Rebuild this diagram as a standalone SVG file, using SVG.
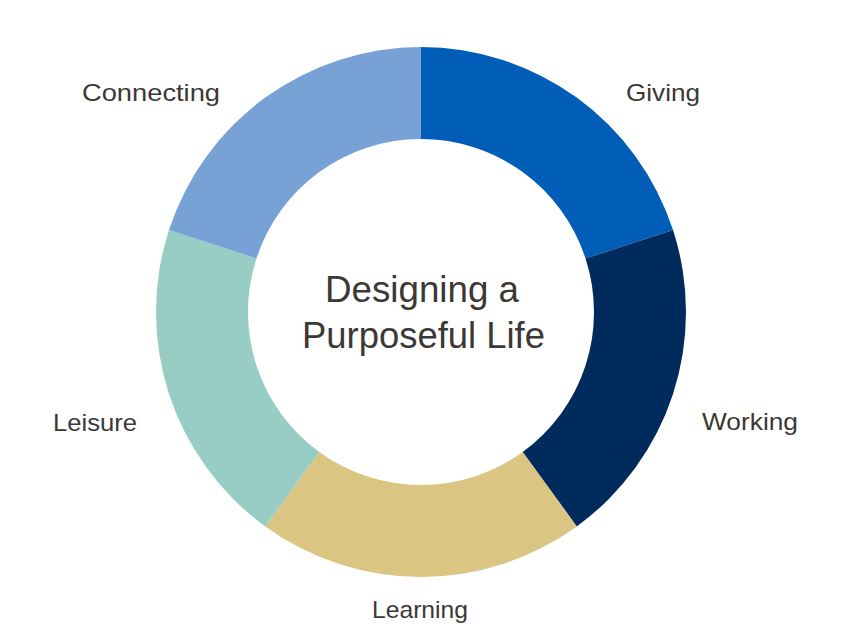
<svg xmlns="http://www.w3.org/2000/svg" width="852" height="638" viewBox="0 0 852 638">
<style>
.lbl{font-family:"Liberation Sans",Arial,sans-serif;font-size:24px;fill:#3b3835}
.ctr{font-family:"Liberation Sans",Arial,sans-serif;font-size:37px;fill:#3b3835}
.seg{stroke:none}
</style>
<rect width="852" height="638" fill="#ffffff"/>
<g id="segments">
<g id="giving"><path class="seg" fill="#005EB8" d="M421,47 A265,265 0 0 1 673.03,230.11 L585.53,258.54 A173,173 0 0 0 421,139 Z"/><text class="lbl" x="626" y="101" textLength="74" lengthAdjust="spacingAndGlyphs">Giving</text></g>
<g id="working"><path class="seg" fill="#002B5C" d="M673.03,230.11 A265,265 0 0 1 576.76,526.39 L522.69,451.96 A173,173 0 0 0 585.53,258.54 Z"/><text class="lbl" x="702" y="430" textLength="96" lengthAdjust="spacingAndGlyphs">Working</text></g>
<g id="learning"><path class="seg" fill="#DBC582" d="M576.76,526.39 A265,265 0 0 1 265.24,526.39 L319.31,451.96 A173,173 0 0 0 522.69,451.96 Z"/><text class="lbl" x="372" y="618" textLength="96" lengthAdjust="spacingAndGlyphs">Learning</text></g>
<g id="leisure"><path class="seg" fill="#98CDC5" d="M265.24,526.39 A265,265 0 0 1 168.97,230.11 L256.47,258.54 A173,173 0 0 0 319.31,451.96 Z"/><text class="lbl" x="53" y="431" textLength="84" lengthAdjust="spacingAndGlyphs">Leisure</text></g>
<g id="connecting"><path class="seg" fill="#78A2D6" d="M168.97,230.11 A265,265 0 0 1 421,47 L421,139 A173,173 0 0 0 256.47,258.54 Z"/><text class="lbl" x="82" y="101" textLength="138" lengthAdjust="spacingAndGlyphs">Connecting</text></g>
</g>
<g id="connectors"></g>
<g id="center">
<text class="ctr" x="325" y="302" textLength="194" lengthAdjust="spacingAndGlyphs">Designing a</text>
<text class="ctr" x="302" y="348" textLength="243" lengthAdjust="spacingAndGlyphs">Purposeful Life</text>
</g>
</svg>
